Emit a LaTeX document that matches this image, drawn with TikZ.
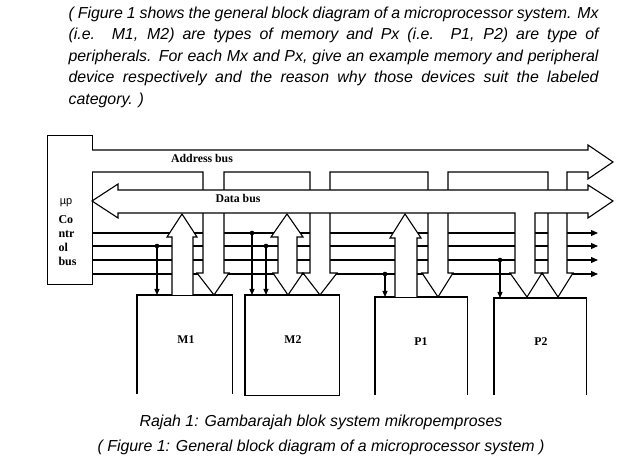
\documentclass[tikz,border=0pt]{standalone}
\usepackage{fontspec}
\setmainfont{Liberation Serif}
\setsansfont{Liberation Sans}
\usetikzlibrary{arrows.meta}
\newcommand{\jline}[1]{\makebox[530pt][s]{#1}}
\begin{document}
\begin{tikzpicture}[x=1pt,y=-1pt,line width=1.1pt,
  bus/.style={draw,fill=white,line join=miter},
  lbl/.style={font=\bfseries\fontsize{11.8}{12}\selectfont,inner sep=0},
  ctl/.style={-{Triangle[length=7pt,width=6pt]}},
  tap/.style={-{Triangle[length=6pt,width=5pt]}},
  unit/.style={inner sep=0,minimum width=94pt,minimum height=98pt,anchor=north west}]
\useasboundingbox (0,0) rectangle (637,470);
\node[anchor=north west,inner sep=0,align=left,font=\sffamily\itshape\fontsize{15.9}{21.5}\selectfont] (para) at (68,6)
{\jline{( Figure 1 shows the general block diagram of a microprocessor system. Mx}\\
\jline{(i.e. M1, M2) are types of memory and Px (i.e. P1, P2) are type of}\\
\jline{peripherals. For each Mx and Px, give an example memory and peripheral}\\
\jline{device respectively and the reason why those devices suit the labeled}\\
category. )};
% uP box
\node[draw,fill=white,minimum width=45pt,minimum height=149pt,inner sep=0,anchor=north west] (up) at (47,135) {};
\node[font=\sffamily\fontsize{11}{12}\selectfont,inner sep=0] (uplbl) at (66,203) {µp};
\node[anchor=north west,inner sep=0,align=left,font=\bfseries\fontsize{12}{14}\selectfont] (ctllbl) at (58,215) {Co\\ntr\\ol\\bus};
% control lines
\coordinate (c1) at (598,233); \coordinate (c2) at (598,246);
\coordinate (c3) at (598,260); \coordinate (c4) at (598,274);
\draw[ctl] (up.east |- c1) -- (c1);
\draw[ctl] (up.east |- c2) -- (c2);
\draw[ctl] (up.east |- c3) -- (c3);
\draw[ctl] (up.east |- c4) -- (c4);
% units
\node[unit] (M1) at (137,295) {};
\node[unit,minimum width=93pt,minimum height=99pt] (M2) at (245,295) {};
\node[unit,minimum width=91pt,minimum height=97pt] (P1) at (375,297) {};
\node[unit,minimum width=91pt,minimum height=96pt] (P2) at (494,298) {};
\draw (M1.south west) -- (M1.north west) -- (M1.north east) -- (M1.south east);
\draw (M2.south west) rectangle (M2.north east);
\draw (P1.south west) -- (P1.north west) -- (P1.north east) -- (P1.south east);
\draw (P2.south west) -- (P2.north west) -- (P2.north east) -- (P2.south east);
\node[lbl] at (186,340) {M1};
\node[lbl] at (293,340) {M2};
\node[lbl] at (421,342) {P1};
\node[lbl] at (541,342) {P2};
% address bus
\draw[bus] (92,150) -- (588,150) -- (588,145) -- (613,162) -- (588,179) -- (588,172) -- (567,172)
 -- (567,273) -- (573,273) -- (558,297) -- (542,273) -- (548,273) -- (548,172)
 -- (448,172) -- (448,273) -- (453,273) -- (438,297) -- (422,273) -- (428,273) -- (428,172)
 -- (330,172) -- (330,273) -- (337,273) -- (320,295) -- (303,273) -- (310,273) -- (310,172)
 -- (224,172) -- (224,273) -- (229,273) -- (214,295) -- (197,273) -- (203,273) -- (203,172)
 -- (92,172);
\node[lbl] (ab) at (202,158) {Address bus};
% data bus
\draw[bus] (92,201) -- (118,184) -- (118,190) -- (588,190) -- (588,185) -- (613,201) -- (588,218) -- (588,213)
 -- (535,213) -- (535,273) -- (542,273) -- (527,297) -- (510,273) -- (515,273) -- (515,213)
 -- (118,213) -- (118,218) -- cycle;
\node[lbl] (db) at (238,198) {Data bus};
% data branches
\draw[bus] (172,295) -- (172,237) -- (167,237) -- (182,214) -- (197,237) -- (193,237) -- (193,295);
\draw[bus] (287,214) -- (303,237) -- (297,237) -- (297,273) -- (303,273) -- (288,295) -- (273,273) -- (278,273) -- (278,237) -- (271,237) -- cycle;
\draw[bus] (395,297) -- (395,238) -- (390,238) -- (405,214) -- (421,238) -- (417,238) -- (417,297);
% control taps
\fill (157,246) circle (2.3pt); \draw[tap] (157,246) -- (157,295);
\fill (252,233) circle (2.3pt); \draw[tap] (252,233) -- (252,295);
\fill (266,246) circle (2.3pt); \draw[tap] (266,246) -- (266,295);
\fill (385,274) circle (2.3pt); \draw[tap] (385,274) -- (385,297);
\fill (500,260) circle (2.3pt); \draw[tap] (500,260) -- (500,298);
% captions
\node[font=\sffamily\itshape\fontsize{15.9}{16}\selectfont,inner sep=0] (cap1) at (321,422) {Rajah 1: Gambarajah blok system mikropemproses};
\node[font=\sffamily\itshape\fontsize{15.9}{16}\selectfont,inner sep=0] (cap2) at (321,447) {( Figure 1: General block diagram of a microprocessor system )};
\end{tikzpicture}
\end{document}
